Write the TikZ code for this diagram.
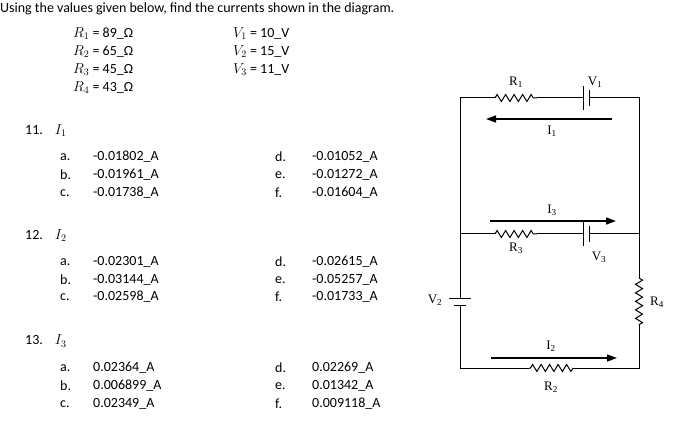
\documentclass[tikz,border=0pt]{standalone}
\usepackage{fontspec}
\setmainfont{Carlito}
\newfontfamily\tms{Liberation Serif}
\usetikzlibrary{decorations.pathmorphing,arrows.meta}
\begin{document}
\begin{tikzpicture}[x=1pt,y=-1pt,
  txt/.style={anchor=west,inner sep=0pt,font=\fontsize{14}{16}\selectfont},
  cl/.style={inner sep=0pt,font=\tms\fontsize{13}{15}\selectfont},
  wire/.style={line width=1pt},
  res/.style={line width=1pt,decorate,decoration={zigzag,segment length=8.5pt,amplitude=3.5pt}},
  cur/.style={line width=1.5pt,-{Triangle[length=10pt,width=7pt]}}]
\useasboundingbox (0,0) rectangle (679,427);
\node[txt] (t) at (0,9) {Using the values given below, find the currents shown in the diagram.};
\foreach \i/\v/\y in {1/89/34,2/65/52,3/45/70,4/43/88}
  \node[txt] (r\i) at (73,\y) {$R_{\i}$ = \v\_Ω};
\foreach \i/\v/\y in {1/10/34,2/15/52,3/11/70}
  \node[txt] (v\i) at (233,\y) {$V_{\i}$ = \v\_V};
\node[txt] (q11) at (25,131) {11.\hspace{12pt}$I_1$};
\node[txt] (q12) at (25,236) {12.\hspace{12pt}$I_2$};
\node[txt] (q13) at (25,341) {13.\hspace{12pt}$I_3$};
\foreach \y/\l/\a/\r/\b in {157/a/-0.01802\_A/d/-0.01052\_A,175/b/-0.01961\_A/e/-0.01272\_A,193/c/-0.01738\_A/f/-0.01604\_A,
  262/a/-0.02301\_A/d/-0.02615\_A,280/b/-0.03144\_A/e/-0.05257\_A,297/c/-0.02598\_A/f/-0.01733\_A,
  368/a/0.02364\_A/d/0.02269\_A,386/b/0.006899\_A/e/0.01342\_A,404/c/0.02349\_A/f/0.009118\_A}{
  \node[txt] at (60,\y) {\l.};
  \node[txt] at (93,\y) {\a};
  \node[txt] at (275,\y) {\r.};
  \node[txt] at (312,\y) {\b};
}
% circuit
\coordinate (TL) at (460,98); \coordinate (TR) at (639,98);
\coordinate (ML) at (460,234); \coordinate (MR) at (639,234);
\coordinate (BL) at (460,368); \coordinate (BR) at (639,368);
\coordinate (R1a) at (495,98); \coordinate (R1b) at (537,98);
\coordinate (R3a) at (495,234); \coordinate (R3b) at (537,234);
\coordinate (R2a) at (529,368); \coordinate (R2b) at (573,368);
\coordinate (R4a) at (639,278); \coordinate (R4b) at (639,325);
\coordinate (V1a) at (583,98); \coordinate (V1b) at (589,98);
\coordinate (V3a) at (583,234); \coordinate (V3b) at (589,234);
\coordinate (V2a) at (460,298); \coordinate (V2b) at (460,305);
\draw[wire] (V1a) -- (R1b); \draw[res] (R1a) -- (R1b); \draw[wire] (R1a) -- (TL) -- (V2a);
\draw[wire] (V1b) -- (TR) -- (R4a);
\draw[wire] (V3a) -- (R3b); \draw[res] (R3a) -- (R3b); \draw[wire] (R3a) -- (ML);
\draw[wire] (V3b) -- (MR);
\draw[res] (R4a) -- (R4b); \draw[wire] (R4b) -- (BR) -- (R2b); \draw[res] (R2b) -- (R2a);
\draw[wire] (R2a) -- (BL) -- (V2b);
\draw[wire] ([yshift=-12]V1a) -- ([yshift=12]V1a); \draw[wire] ([yshift=-8]V1b) -- ([yshift=8]V1b);
\draw[wire] ([yshift=-12]V3a) -- ([yshift=12]V3a); \draw[wire] ([yshift=-8]V3b) -- ([yshift=8]V3b);
\draw[wire] ([xshift=-11]V2a) -- ([xshift=11]V2a); \draw[wire] ([xshift=-6]V2b) -- ([xshift=6]V2b);
\coordinate (I1a) at (612,119); \coordinate (I1b) at (486,119);
\coordinate (I3a) at (490,221); \coordinate (I3b) at (616,221);
\coordinate (I2a) at (491,358); \coordinate (I2b) at (617,358);
\draw[cur] (I1a) -- (I1b); \draw[cur] (I3a) -- (I3b); \draw[cur] (I2a) -- (I2b);
\node[cl] (lR1) at (516,82) {R\textsubscript{1}};
\node[cl] (lV1) at (595,82) {V\textsubscript{1}};
\node[cl] (lI1) at (552,131) {I\textsubscript{1}};
\node[cl] (lI3) at (552,210) {I\textsubscript{3}};
\node[cl] (lR3) at (516,248) {R\textsubscript{3}};
\node[cl] (lV3) at (599,257) {V\textsubscript{3}};
\node[cl] (lV2) at (435,300) {V\textsubscript{2}};
\node[cl] (lR4) at (657,302) {R\textsubscript{4}};
\node[cl] (lI2) at (551,346) {I\textsubscript{2}};
\node[cl] (lR2) at (551,387) {R\textsubscript{2}};
\end{tikzpicture}
\end{document}
